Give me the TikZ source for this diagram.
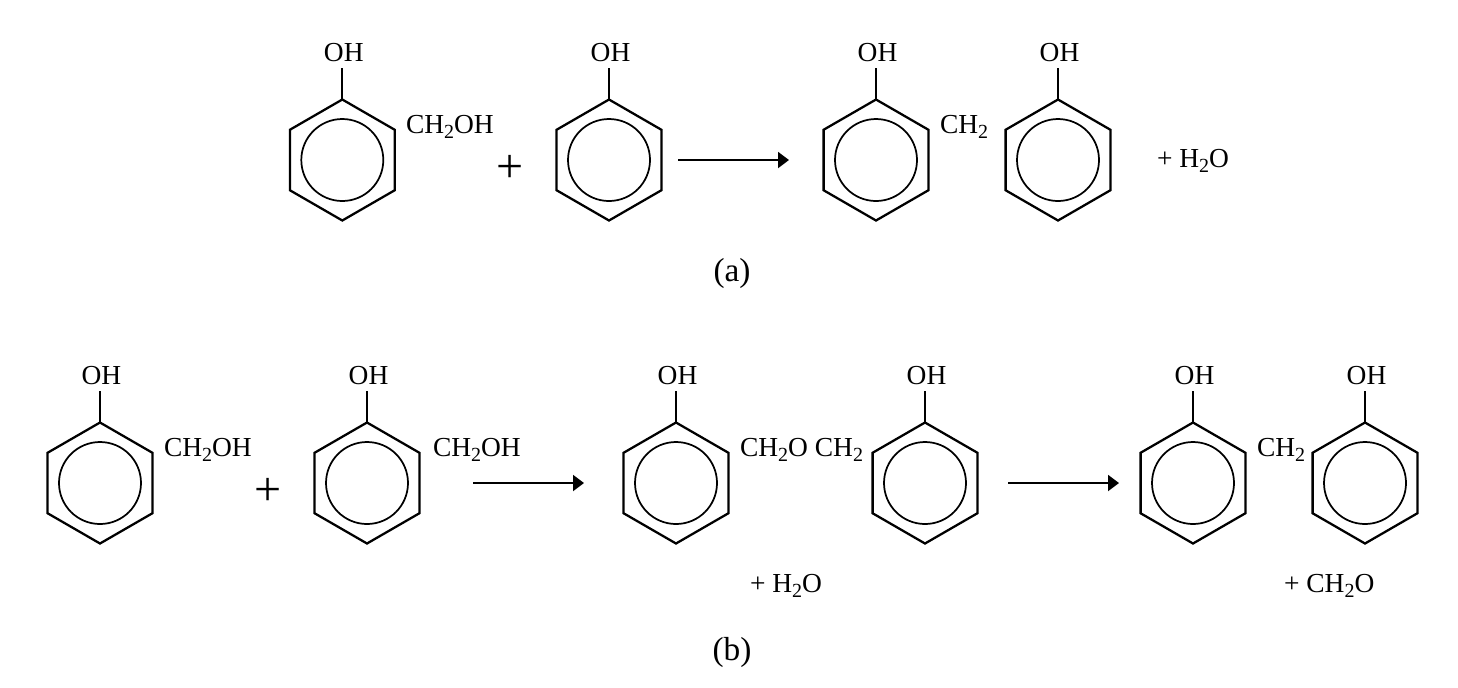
\documentclass[tikz,border=0pt]{standalone}
\usepackage{fontspec}
\setmainfont{Liberation Serif}
\usetikzlibrary{shapes.geometric,arrows.meta}
\newcommand{\chemsub}[1]{\raisebox{-0.2em}{\fontsize{15pt}{16pt}\selectfont #1}}
\tikzset{x=0.75pt,y=-0.75pt,
 ringbox/.style={regular polygon,regular polygon sides=6,shape border rotate=30,draw,line width=1.7pt,line join=miter,minimum size=90.75pt,inner sep=0pt,outer sep=0pt},
 innerc/.style={circle,draw,line width=1.3pt,minimum size=61.5pt,inner sep=0pt,outer sep=0pt},
 chem/.style={font=\fontsize{20.6pt}{24pt}\selectfont,inner sep=0pt,outer sep=0pt},
 bigplus/.style={font=\fontsize{36pt}{36pt}\selectfont,inner sep=0pt,outer sep=0pt},
 caption/.style={font=\fontsize{25pt}{28pt}\selectfont,inner sep=0pt,outer sep=0pt},
 bond/.style={line width=1.7pt},
 reactarrow/.style={line width=1.5pt,-{Triangle[length=8.25pt,width=12pt]}}}
\newcommand{\Hring}[3]{%
 \node[ringbox] (#1) at (#2,#3) {};
 \node[innerc] (#1c) at (#2,#3) {};
 \node[chem,anchor=base] (#1oh) at (#2+1.5,#3-98.3) {OH};
 \coordinate (#1top) at (#2,#3-92.5);
 \draw[bond] (#1.corner 1) -- (#1top);}
\begin{document}
\begin{tikzpicture}
\useasboundingbox (0,0) rectangle (1458,687);
\fill[white] (0,0) rectangle (1458,687);
\Hring{a1}{342.3}{160}
\Hring{a2}{609}{160}
\Hring{a3}{876}{160}
\Hring{a4}{1058}{160}
\node[chem,anchor=base west] (t1) at (406,133) {CH\chemsub{2}OH};
\node[bigplus] (p1) at (510,169) {+};
\coordinate (a1s) at (678,160);
\coordinate (a1e) at (789,160);
\draw[reactarrow] (a1s) -- (a1e);
\node[chem,anchor=base west] (t2) at (940,133) {CH\chemsub{2}};
\node[chem,anchor=base west] (t3) at (1157,167) {+ H\chemsub{2}O};
\node[caption] (capa) at (732,273) {(a)};
\Hring{b1}{100}{483}
\Hring{b2}{367}{483}
\Hring{b3}{676}{483}
\Hring{b4}{925}{483}
\Hring{b5}{1193}{483}
\Hring{b6}{1365}{483}
\node[chem,anchor=base west] (t4) at (164,456) {CH\chemsub{2}OH};
\node[bigplus] (p2) at (268,492) {+};
\node[chem,anchor=base west] (t5) at (433,456) {CH\chemsub{2}OH};
\coordinate (b1s) at (473,483);
\coordinate (b1e) at (584,483);
\draw[reactarrow] (b1s) -- (b1e);
\node[chem,anchor=base west] (t6) at (740,456) {CH\chemsub{2}O CH\chemsub{2}};
\coordinate (b2s) at (1008,483);
\coordinate (b2e) at (1119,483);
\draw[reactarrow] (b2s) -- (b2e);
\node[chem,anchor=base west] (t7) at (1257,456) {CH\chemsub{2}};
\node[chem,anchor=base west] (t8) at (750,592) {+ H\chemsub{2}O};
\node[chem,anchor=base west] (t9) at (1284,592) {+ CH\chemsub{2}O};
\node[caption] (capb) at (732,652) {(b)};
\end{tikzpicture}
\end{document}
